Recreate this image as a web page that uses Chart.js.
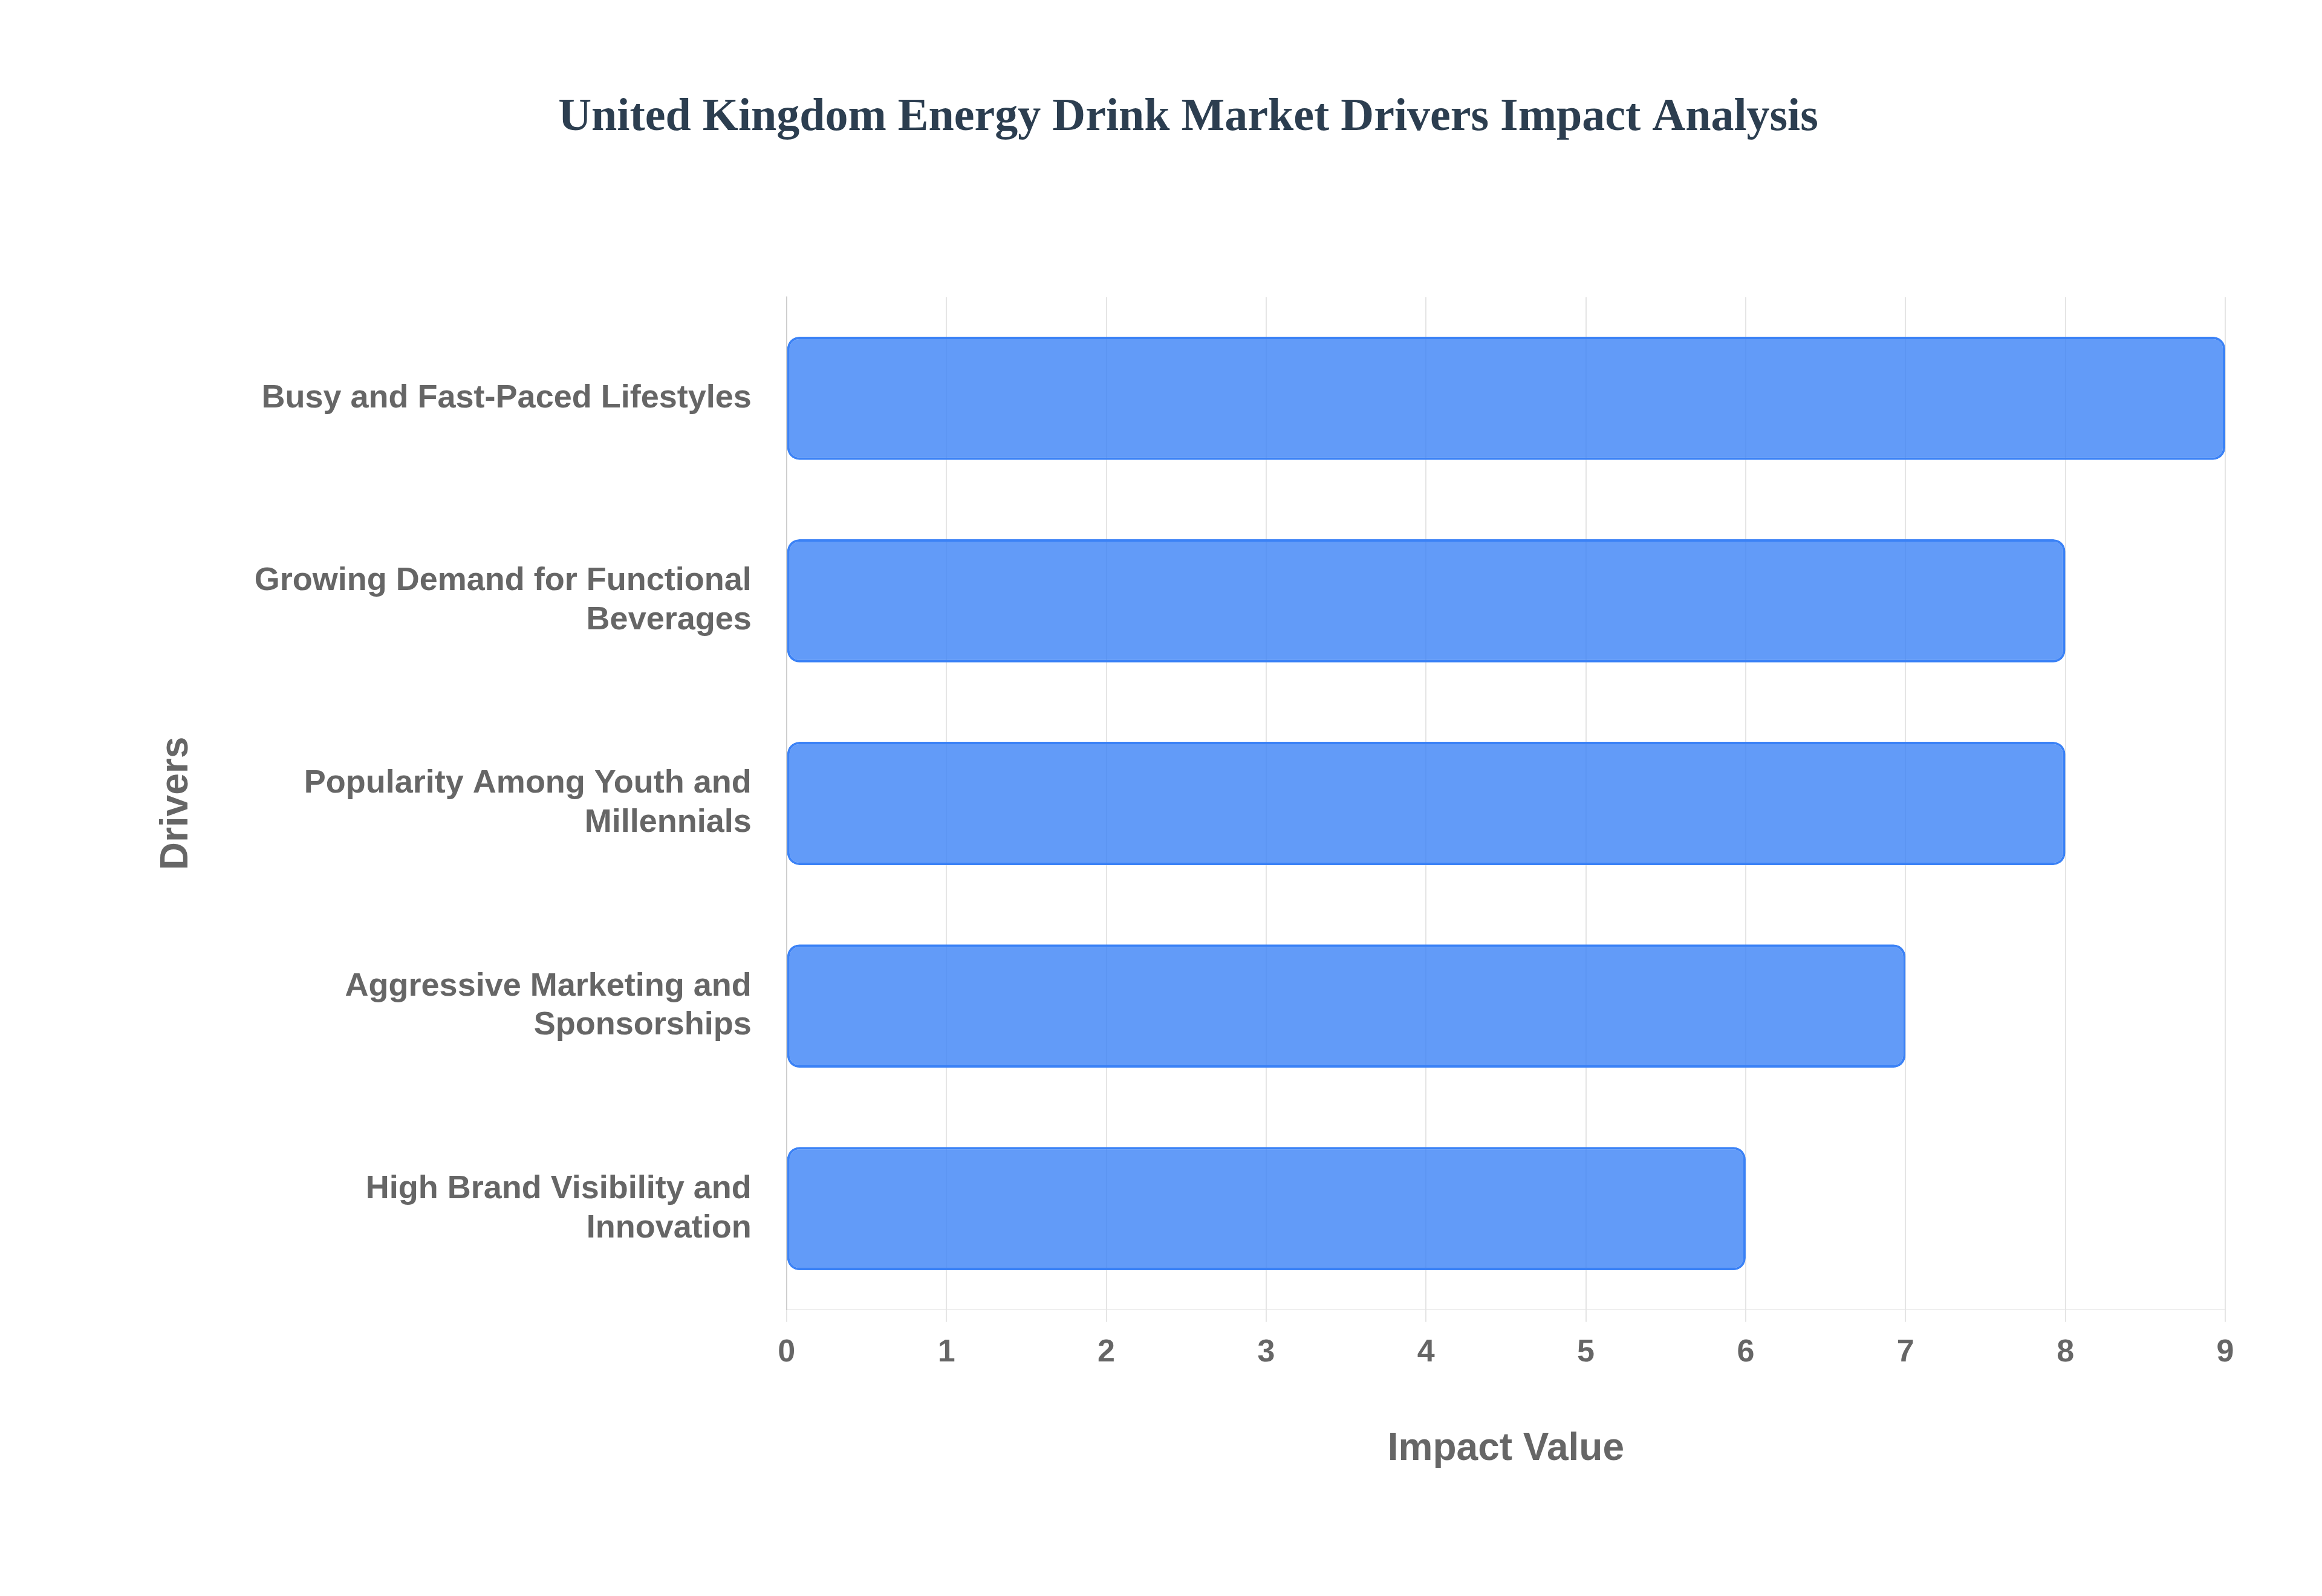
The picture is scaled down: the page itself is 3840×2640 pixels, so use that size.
<!DOCTYPE html>
<html>
<head>
<meta charset="utf-8">
<script src="https://cdn.jsdelivr.net/npm/chart.js@4"></script>
<style>
  html, body { margin: 0; padding: 0; background: #ffffff; }
  #wrap { width: 3840px; height: 2640px; }
</style>
</head>
<body>
<div id="wrap"><canvas id="drivers-chart" width="3840" height="2640"></canvas></div>
<script>
"use strict";

var driverLabels = [
    "Busy and Fast-Paced Lifestyles",
    ["Growing Demand for Functional", "Beverages"],
    ["Popularity Among Youth and", "Millennials"],
    ["Aggressive Marketing and", "Sponsorships"],
    ["High Brand Visibility and", "Innovation"]
];
var impactValues = [9, 8, 8, 7, 6];

var ctx = document.getElementById("drivers-chart");
var driversChart = new Chart(ctx, {
    type: 'bar',
    data: {
        labels: driverLabels,
        datasets: [
            {
                label: "Impact Value",
                data: impactValues,
                backgroundColor: "rgba(59, 130, 246, 0.8)",
                borderColor: "rgb(59, 130, 246)",
                borderWidth: 4,
                borderRadius: 20,
                borderSkipped: false,
                barPercentage: 0.76,
                categoryPercentage: 0.8
            }
        ]
    },
    options: {
        indexAxis: 'y',
        responsive: false,
        devicePixelRatio: 1,
        animation: false,
        layout: { padding: { left: 250, right: 160, top: 150, bottom: 200 } },
        plugins: {
            legend: { display: false },
            tooltip: { enabled: false },
            title: {
                display: true,
                text: "United Kingdom Energy Drink Market Drivers Impact Analysis",
                color: "#2c3e50",
                font: { family: "Liberation Serif", size: 76, weight: "bold" },
                padding: { top: 0, bottom: 250 }
            }
        },
        scales: {
            x: {
                min: 0,
                max: 9,
                ticks: {
                    stepSize: 1,
                    color: "#666666",
                    font: { family: "Liberation Sans", size: 52, weight: "bold" },
                    padding: 20
                },
                grid: { color: "rgba(0,0,0,0.1)", lineWidth: 2, tickLength: 20 },
                border: { color: "rgba(0,0,0,0.1)" },
                title: {
                    display: true,
                    text: "Impact Value",
                    color: "#666666",
                    font: { family: "Liberation Sans", size: 64, weight: "bold" },
                    padding: { top: 70 }
                }
            },
            y: {
                ticks: {
                    color: "#666666",
                    font: { family: "Liberation Sans", size: 54, weight: "bold" },
                    padding: 50
                },
                grid: { display: false },
                border: { color: "rgba(0,0,0,0.1)", width: 2 },
                title: {
                    display: true,
                    text: "Drivers",
                    color: "#666666",
                    font: { family: "Liberation Sans", size: 64, weight: "bold" },
                    padding: { bottom: 40 }
                }
            }
        }
    }
});
</script>
</body>
</html>
